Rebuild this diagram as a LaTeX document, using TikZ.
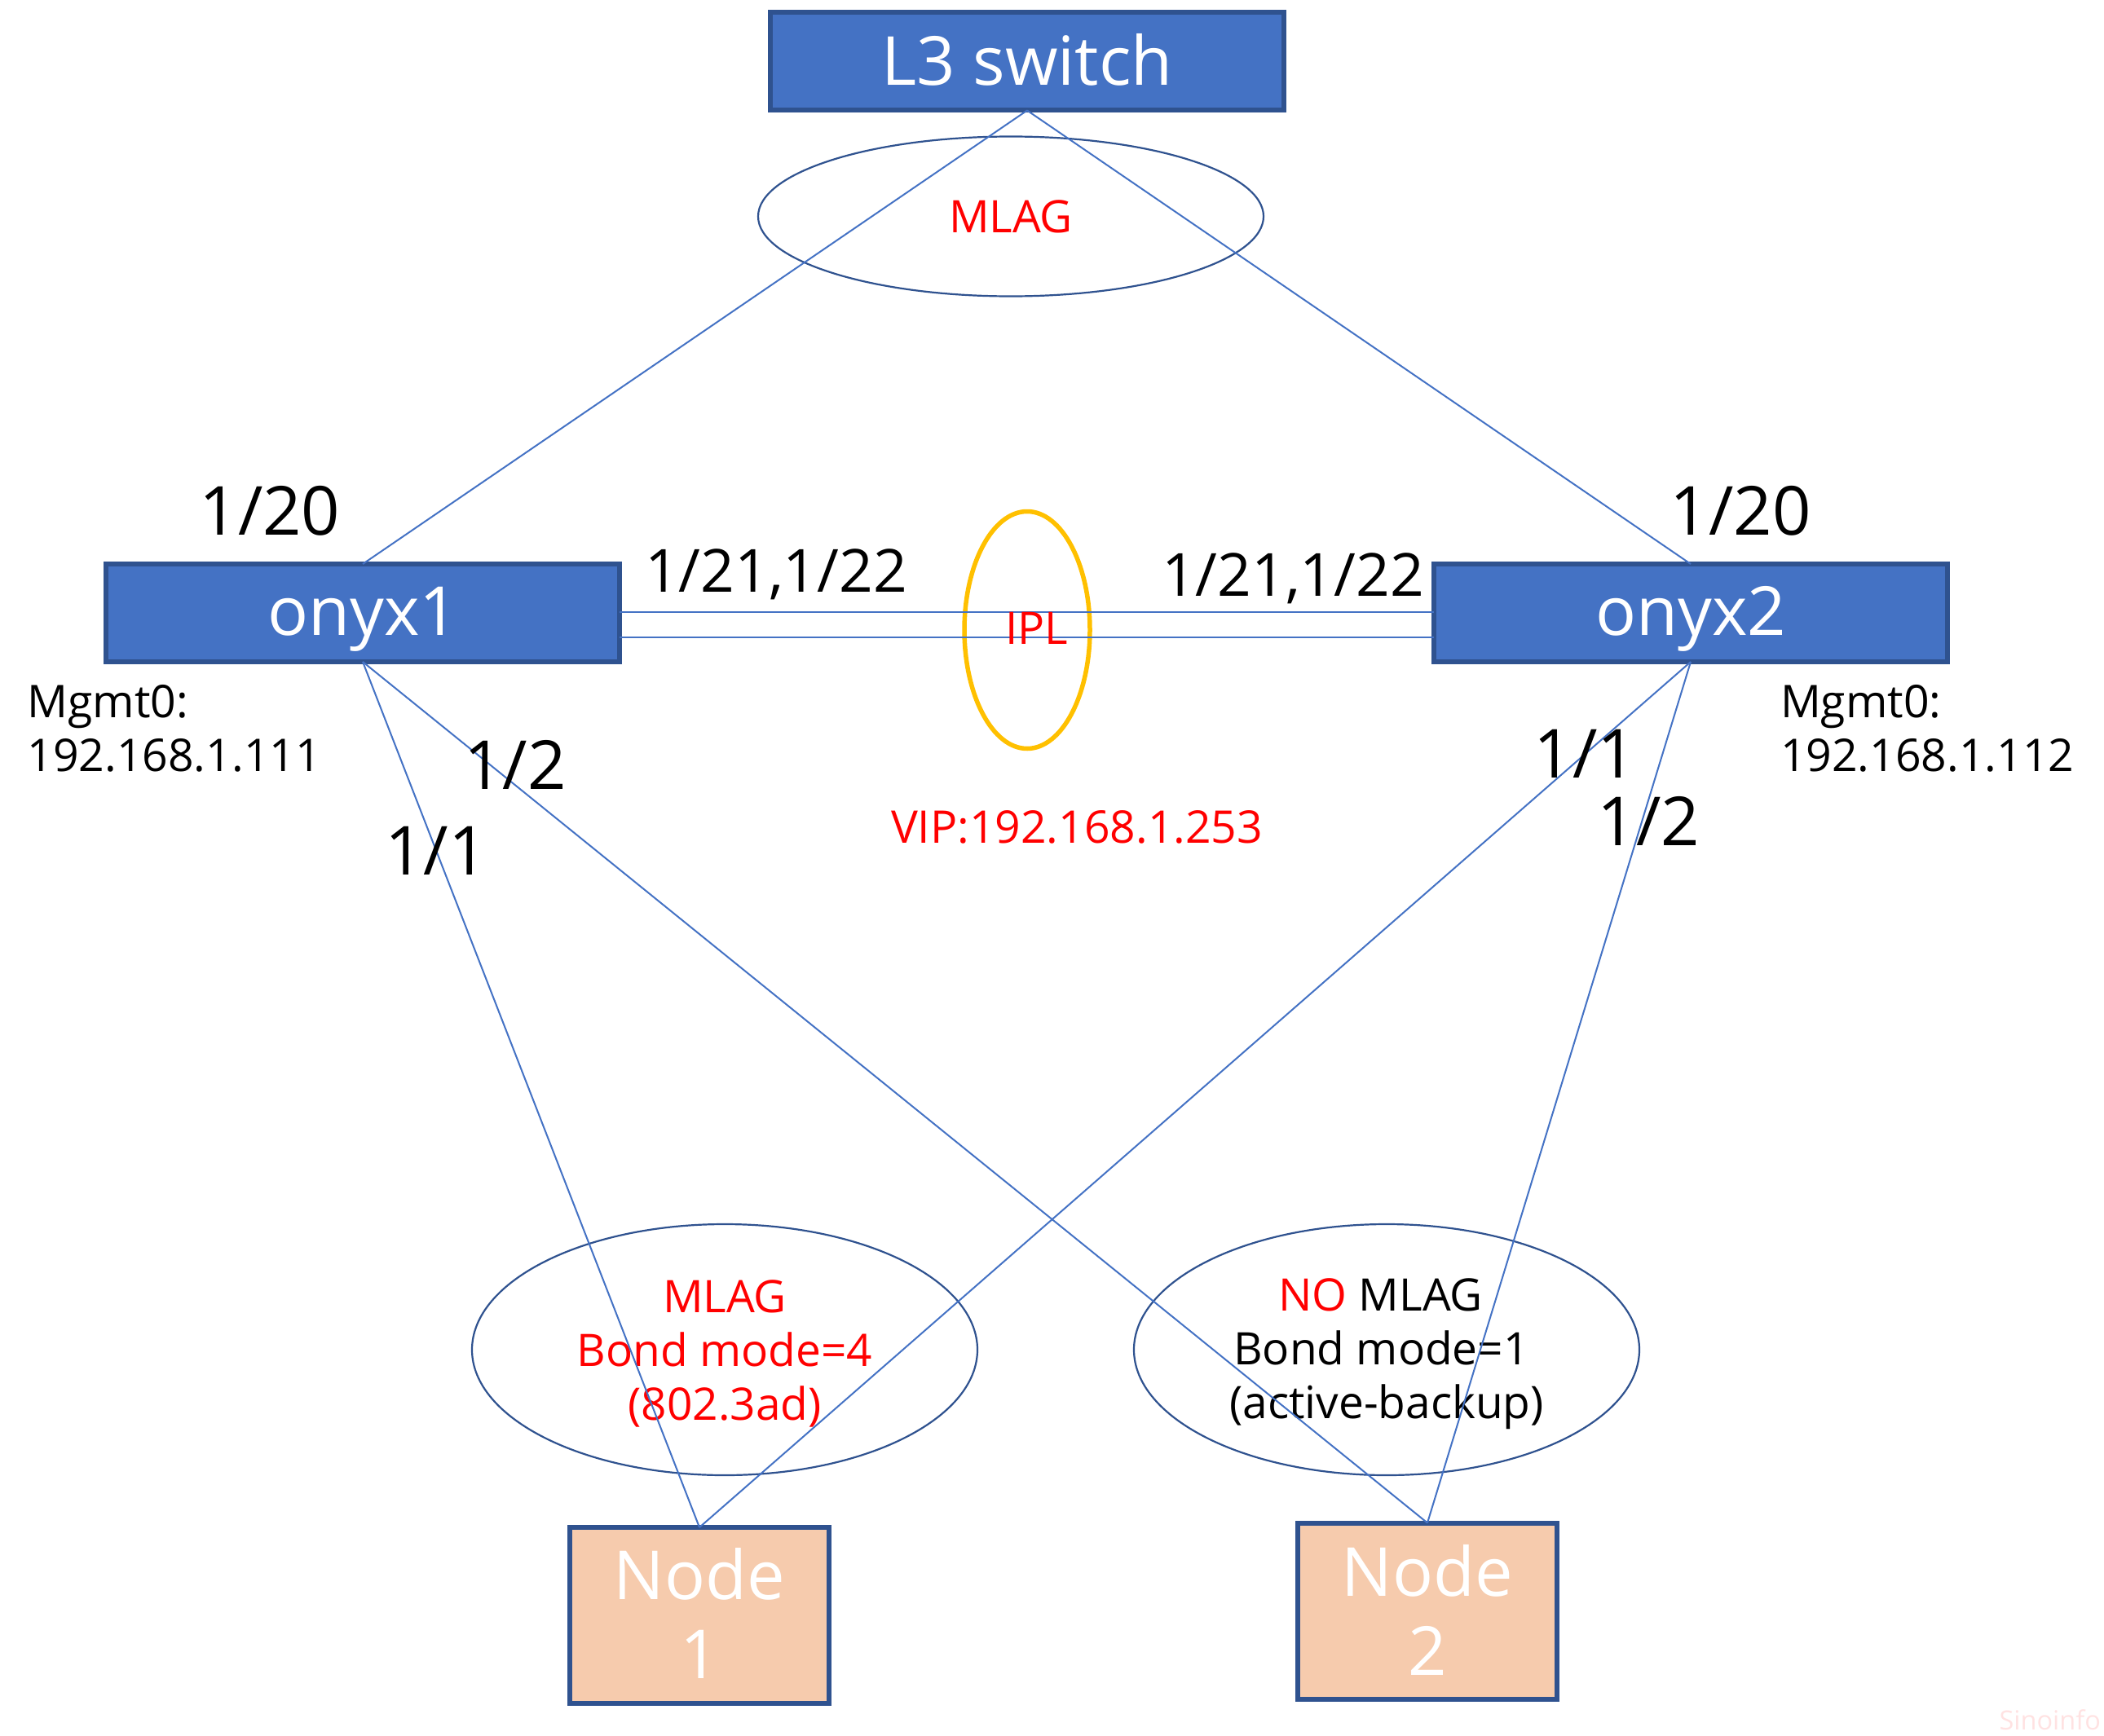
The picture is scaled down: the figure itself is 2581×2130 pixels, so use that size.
\documentclass[tikz,border=0pt]{standalone}
\usepackage{fontspec}
\setmainfont{Open Sans}
\usetikzlibrary{shapes.geometric}
\definecolor{boxblue}{HTML}{4472C4}
\definecolor{edgeblue}{HTML}{2F528F}
\definecolor{peach}{HTML}{F6CBAD}
\definecolor{ringgold}{HTML}{FFC000}
\definecolor{wmark}{HTML}{FFE2E2}
\newcommand{\fsz}[2]{\fontsize{#1}{#2}\selectfont}
\tikzset{
  every node/.style={outer sep=0pt,inner sep=0pt},
  sw/.style={draw=edgeblue,line width=6pt,fill=boxblue,text=white,minimum width=630pt,minimum height=120pt,font=\fsz{83}{97}},
  hostbox/.style={draw=edgeblue,line width=6pt,fill=peach,text=white,minimum width=318pt,minimum height=216pt,align=center,font=\fsz{83}{97}},
  ring/.style={ellipse,draw=edgeblue,line width=2.2pt,minimum width=620pt,minimum height=308pt,align=center,font=\fsz{55}{66}},
  link/.style={draw=boxblue,line width=2pt},
  port/.style={font=\fsz{83}{90}},
  small/.style={font=\fsz{55.3}{66},align=left,anchor=west}
}
\begin{document}
\begin{tikzpicture}[x=1pt,y=-1pt]
\useasboundingbox (0,0) rectangle (2581,2130);
\node[sw] (l3) at (1260,75.5) {\raisebox{-29.5pt}[0pt][0pt]{L3 switch}};
\node[sw] (onyx1) at (445,752) {\raisebox{-27.5pt}[0pt][0pt]{onyx1}};
\node[sw] (onyx2) at (2074,752) {\raisebox{-27.5pt}[0pt][0pt]{onyx2}};
\node[hostbox] (n1) at (858,1982) {Node\\\rule[-6pt]{0pt}{6pt}1};
\node[hostbox] (n2) at (1751,1976.5) {Node\\\rule[-3pt]{0pt}{3pt}2};
\node[ring,minimum height=196pt,text=red] (m0) at (1240,265.5) {MLAG};
\node[ring,text=red] (m1) at (889,1656) {\rule{0pt}{50pt}MLAG\\Bond mode=4\\(802.3ad)};
\node[ring] (m2) at (1701,1656) {\rule{0pt}{50pt}\mbox{\textcolor{red}{NO} MLAG\kern 15pt}\\\mbox{Bond mode=1\kern 13pt}\\(active-backup)};
\node[ellipse,draw=ringgold,line width=5.5pt,minimum width=154pt,minimum height=291pt] (ipl) at (1260,773) {};
\coordinate (upper) at (1260,751);
\coordinate (lower) at (1260,782);
\draw[link] (l3.south) -- (onyx1.north);
\draw[link] (l3.south) -- (onyx2.north);
\draw[link] (onyx1.east |- upper) -- (onyx2.west |- upper);
\draw[link] (onyx1.east |- lower) -- (onyx2.west |- lower);
\draw[link] (onyx1.south) -- (n1.north);
\draw[link] (onyx1.south) -- (n2.north);
\draw[link] (onyx2.south) -- (n1.north);
\draw[link] (onyx2.south) -- (n2.north);
\node[font=\fsz{55}{60},text=red] (ipltext) at (1272,771) {IPL};
\node[font=\fsz{55.2}{60},text=red] (vip) at (1321,1015) {VIP:192.168.1.253};
\node[port] (p20a) at (331,627) {1/20};
\node[port] (p20b) at (2135,627) {1/20};
\node[port,font=\fsz{73}{80}] (p21a) at (952,704.5) {1/21,1/22};
\node[port,font=\fsz{73}{80}] (p21b) at (1586,709.5) {1/21,1/22};
\node[port] (p2a) at (632,938.5) {1/2};
\node[port] (p1a) at (535,1044) {1/1};
\node[port] (p1b) at (1944.5,925) {1/1};
\node[port] (p2b) at (2022.5,1007) {1/2};
\node[small] (mg1) at (33.5,900.5) {\begin{tabular}{@{}l@{}}Mgmt0:\\192.168.1.111\end{tabular}};
\node[small] (mg2) at (2184,900.5) {\begin{tabular}{@{}l@{}}Mgmt0:\\192.168.1.112\end{tabular}};
\node[font=\fsz{32.5}{36},text=wmark,anchor=base east] (wm) at (2577,2122) {Sinoinfo};
\end{tikzpicture}
\end{document}
